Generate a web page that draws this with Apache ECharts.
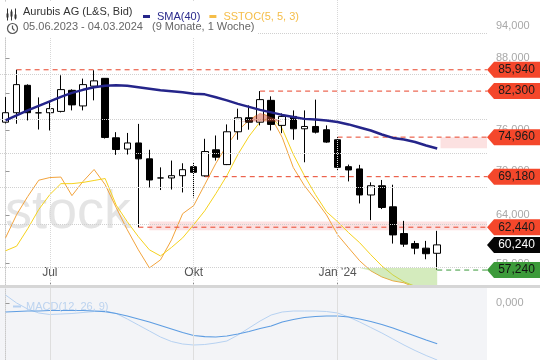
<!DOCTYPE html>
<html><head><meta charset="utf-8">
<script src="https://cdn.jsdelivr.net/npm/echarts@6/dist/echarts.min.js"></script>
<style>html,body{margin:0;padding:0;background:#fff}#c{width:540px;height:360px}</style>
</head><body><div id="c"></div>
<script>
// ---- data (weekly, Aurubis AG, L&S Bid) ----
const weeks = ['05.06.2023','12.06.2023','19.06.2023','26.06.2023','03.07.2023','10.07.2023','17.07.2023','24.07.2023','31.07.2023','07.08.2023',
  '14.08.2023','21.08.2023','28.08.2023','04.09.2023','11.09.2023','18.09.2023','25.09.2023','02.10.2023','09.10.2023','16.10.2023',
  '23.10.2023','30.10.2023','06.11.2023','13.11.2023','20.11.2023','27.11.2023','04.12.2023','11.12.2023','18.12.2023','25.12.2023',
  '01.01.2024','08.01.2024','15.01.2024','22.01.2024','29.01.2024','05.02.2024','12.02.2024','19.02.2024','26.02.2024','04.03.2024'];
const open  = [77.27,78.77,83.27,78.75,78.77,78.98,82.43,79.86,83.13,84.46, 74.86,73.17,74.08,71.73,69.00,69.00,69.32,70.60,69.30,73.06,
               70.90,75.78,77.97,77.27,80.77,76.77,78.18,76.24,76.60,76.09, 74.56,70.60,70.28,66.66,67.92,65.08,61.64,60.40,59.84,59.22];
const close = [78.77,83.39,78.77,78.75,79.42,82.55,80.03,83.39,84.03,74.91, 73.10,74.08,71.73,68.72,69.00,69.32,70.17,69.79,72.80,71.97,
               75.78,77.97,77.27,80.89,76.92,78.18,76.24,76.60,75.72,74.21, 70.50,70.13,66.66,67.92,64.99,61.47,60.33,59.84,59.17,60.24];
const low   = [77.07,77.02,77.54,76.13,75.98,78.82,79.14,79.14,80.77,74.75, 72.31,72.36,62.44,67.69,67.33,67.40,67.00,66.33,69.18,71.48,
               70.83,74.56,76.10,76.77,75.98,75.57,74.56,71.23,75.52,74.10, 70.07,68.52,65.52,63.34,64.78,60.40,60.00,59.10,58.51,57.24];
const high  = [81.31,85.94,83.44,81.26,80.69,84.98,82.60,84.41,85.85,84.51, 75.72,75.60,77.00,73.06,70.50,71.48,71.09,71.23,74.71,75.21,
               76.92,79.42,79.95,82.30,81.43,78.66,79.14,79.14,80.89,76.77, 74.96,70.90,70.86,68.39,68.72,68.06,63.25,60.73,60.73,61.98];
const sma40 = [77.54,78.33,79.14,79.87,80.60,81.35,82.01,82.51,82.93,83.18, 83.27,83.18,82.93,82.68,82.43,82.26,82.09,81.84,81.76,81.27,
               80.77,80.20,79.71,79.22,78.82,78.42,78.10,77.79,77.70,77.54, 77.31,76.92,76.45,75.98,75.37,74.84,74.60,74.23,73.70,73.26];
const stochK = [32.3,41.8,49.2,55.9,57.0,57.2,49.6,55.4,60.3,54.1, 44.7,35.6,27.4,20.0,23.3,31.5,42.2,45.5,54.1,62.8,
                70.2,76.3,80.4,83.5,81.7,73.4,61.1,53.7,47.9,41.7, 33.6,28.2,22.9,18.8,16.3,14.7,13.9,12.0,11.0,8.0];
const stochD = [27.0,28.9,36.0,43.9,50.0,54.5,54.5,55.0,55.8,56.6, 45.7,38.9,32.8,27.4,24.9,28.4,32.3,37.7,43.4,50.4,
                57.8,66.5,73.9,79.8,81.7,77.0,66.5,57.8,50.0,43.0, 38.9,34.4,30.3,25.4,20.8,17.1,14.3,12.5,11.0,9.0];
const macd   = [0.80,0.00,-0.60,-1.00,-1.15,-1.10,-1.05,-0.95,-0.85,-0.80, -1.05,-1.60,-2.20,-2.80,-3.40,-3.85,-4.10,-4.20,-4.15,-4.00,
                -3.80,-3.20,-2.50,-1.80,-1.20,-0.90,-0.80,-0.80,-0.80,-0.85, -1.00,-1.40,-1.90,-2.45,-3.00,-3.60,-4.20,-4.75,-5.25,-5.70];
const macdSignal = [-0.90,-0.85,-0.80,-0.80,-0.75,-0.75,-0.75,-0.75,-0.80,-0.87, -1.05,-1.30,-1.60,-1.90,-2.25,-2.60,-2.95,-3.25,-3.36,-3.40,
                -3.30,-3.10,-2.85,-2.55,-2.30,-1.90,-1.65,-1.45,-1.35,-1.30, -1.30,-1.40,-1.60,-1.85,-2.15,-2.50,-2.90,-3.30,-3.70,-4.08];
const priceTicks = [58, 64, 70, 76, 82, 88, 94, 100];
const xTickWeeks = ['03.07.2023','02.10.2023','01.01.2024'];
const xTickLabels = ['Jul','Okt',"Jan '24"];
const resistLevels = [85.94, 82.30, 74.96, 69.18, 62.44];
const resistFrom   = ['12.06.2023','13.11.2023','01.01.2024','09.10.2023','28.08.2023'];
const supportLevel = 57.24, supportFrom = '04.03.2024';
const lastPrice = 60.24;
const zoneTop    = [63.16, 74.96];
const zoneBottom = [62.07, 73.30];
const zoneFrom   = ['04.09.2023', '04.03.2024'];
const stochOverbought = 80, stochOversold = 20;
const hGridStoch = [116.2, 99.3, 80.8, 66.9, 52.9, 37.7, 20.4];

// ---- helpers ----
const fmt = v => Number(v).toFixed(3).replace('.', ',');
const idx = w => weeks.indexOf(w);
const X_MAX = weeks.length + 3.5; // 4 empty weeks on the right
const tickIdx = xTickWeeks.map(idx);
const pts = arr => arr.map((v, i) => [i, v]);
const candles = weeks.map((w, i) => [i, open[i], close[i], low[i], high[i]]);
const upFillLine = stochK.map(v => Math.max(v, stochOverbought));
const lowFillLine = stochK.map(v => Math.min(v, stochOversold));
const FONT = 'Liberation Sans, Arial, sans-serif';
const tagPath = 'path://M0,8L7,0L53,0L53,16L7,16Z';

const chart = echarts.init(document.getElementById('c'), null, {renderer: 'canvas'});
const tags = resistLevels.map(v => ({v, bg: '#f4472b', fg: '#1a1a1a'}))
  .concat([{v: lastPrice, bg: '#050505', fg: '#ffffff'}, {v: supportLevel, bg: '#3c9a3a', fg: '#111'}]);

const levelSeries = resistLevels.map((v, k) => ({v, from: idx(resistFrom[k]), color: '#e8432a'}))
  .concat([{v: supportLevel, from: idx(supportFrom), color: '#3a9a3a'}])
  .map(l => ({type: 'line', xAxisIndex: 0, yAxisIndex: 0, z: 3, symbol: 'none', silent: true,
    data: [[l.from, l.v], [X_MAX, l.v]], lineStyle: {color: l.color, type: [5, 4], width: 1}}));

const option = {
  animation: false,
  backgroundColor: '#ffffff',
  textStyle: {fontFamily: FONT},
  grid: [
    {left: 0, top: 0, width: 487, height: 285},
    {left: 0, top: 288, width: 487, height: 72, show: true, backgroundColor: '#f3f4f7', borderWidth: 0}
  ],
  legend: [
    {left: 138, top: 6, z: 30, icon: 'rect', itemWidth: 7, itemHeight: 3, itemGap: 9, selectedMode: false,
     textStyle: {fontSize: 11, fontFamily: FONT, padding: [0, 0, 0, 2]},
     data: [{name: 'SMA(40)', textStyle: {color: '#2a2a8c'}},
            {name: 'SSTOC(5, 5, 3)', textStyle: {color: '#f5bd48'}, itemStyle: {color: '#f5bd48'}}]},
    {left: 8, top: 296, z: 30, icon: 'rect', itemWidth: 8, itemHeight: 2, itemGap: 5, selectedMode: false,
     textStyle: {fontSize: 11, fontFamily: FONT, color: '#bcd3ef'},
     data: [{name: 'MACD(12, 26, 9)'}]}
  ],
  xAxis: [
    {type: 'value', gridIndex: 0, min: -0.5, max: X_MAX,
     axisLine: {show: false}, splitLine: {show: false},
     axisTick: {show: true, inside: true, length: 3, customValues: tickIdx, lineStyle: {color: '#888'}},
     axisLabel: {inside: true, customValues: tickIdx, margin: 6, color: '#555', fontSize: 12,
                 formatter: v => xTickLabels[tickIdx.indexOf(Math.round(v))] || ''}},
    {type: 'value', gridIndex: 1, min: -0.5, max: X_MAX, show: false}
  ],
  yAxis: [
    {type: 'log', gridIndex: 0, position: 'right', min: 55.53, max: 99.01,
     axisLine: {show: true, lineStyle: {color: '#c8c8c8', type: 'dotted'}},
     axisTick: {show: true, customValues: priceTicks, length: 4, lineStyle: {color: '#999'}},
     axisLabel: {customValues: priceTicks, formatter: fmt, color: '#a8a8a8', fontSize: 11, margin: 9},
     splitLine: {show: false}},
    {type: 'value', gridIndex: 0, min: 13, max: 129.7, show: false},
    {type: 'value', gridIndex: 1, position: 'right', min: -5.7, max: 1.5,
     axisLine: {show: true, lineStyle: {color: '#c8c8c8', type: 'dotted'}},
     axisTick: {show: true, customValues: [0], length: 4, lineStyle: {color: '#999'}},
     axisLabel: {customValues: [0], formatter: fmt, color: '#a8a8a8', fontSize: 11, margin: 9},
     splitLine: {show: false}}
  ],
  graphic: [
    {type: 'text', left: 5, top: 186, z: 0, silent: true,
     style: {text: 'stock', font: '54px Liberation Sans, Arial', fill: '#e4e4e4'}},
    {type: 'rect', shape: {x: 0, y: 2, width: 257, height: 35}, style: {fill: '#fff'}, z: 20, silent: true},
    {type: 'text', left: 23, top: 6, z: 30, style: {text: 'Aurubis AG (L&S, Bid)', font: '11px Liberation Sans, Arial', fill: '#333'}},
    {type: 'text', left: 23, top: 21, z: 30, style: {text: '05.06.2023 - 04.03.2024', font: '11px Liberation Sans, Arial', fill: '#666'}},
    {type: 'text', left: 152, top: 21, z: 30, style: {text: '(9 Monate, 1 Woche)', font: '11px Liberation Sans, Arial', fill: '#666'}},
    {type: 'group', left: 5, top: 6, z: 30, children: [
      {type: 'line', z: 30, shape: {x1: 1, y1: 0, x2: 1, y2: 12}, style: {stroke: '#333', lineWidth: 1}},
      {type: 'rect', z: 30, shape: {x: 0, y: 5, width: 2, height: 4}, style: {fill: '#333'}},
      {type: 'line', z: 30, shape: {x1: 5, y1: 1, x2: 5, y2: 12}, style: {stroke: '#333', lineWidth: 1}},
      {type: 'rect', z: 30, shape: {x: 4, y: 3, width: 2, height: 5}, style: {fill: '#333'}},
      {type: 'line', z: 30, shape: {x1: 9, y1: 0, x2: 9, y2: 11}, style: {stroke: '#333', lineWidth: 1}},
      {type: 'rect', z: 30, shape: {x: 8, y: 6, width: 2, height: 4}, style: {fill: '#333'}}
    ]},
    {type: 'group', left: 5, top: 21, z: 30, children: [
      {type: 'circle', z: 30, shape: {cx: 6, cy: 6, r: 5}, style: {stroke: '#555', fill: 'none', lineWidth: 1.2}},
      {type: 'polyline', z: 30, shape: {points: [[6, 3], [6, 6], [8, 8]]}, style: {stroke: '#555', fill: 'none', lineWidth: 1.2}}
    ]},
    {type: 'rect', shape: {x: 0, y: 285, width: 540, height: 3}, style: {fill: '#d6d6d6'}, z: 10, silent: true}
  ],
  series: [
    {type: 'candlestick', name: 'Aurubis', xAxisIndex: 0, yAxisIndex: 0, z: 4,
     data: candles, encode: {x: 0, y: [1, 2, 3, 4]}, barWidth: 7,
     itemStyle: {color: '#ffffff', color0: '#000000', borderColor: '#000000', borderColor0: '#000000', borderWidth: 1},
     markArea: {silent: true, itemStyle: {color: 'rgba(246,170,170,0.35)'},
       data: zoneTop.map((t, k) => [{coord: [idx(zoneFrom[k]) + (k === 1 ? 0.3 : 0), t]}, {coord: [X_MAX, zoneBottom[k]]}])},
     markPoint: {silent: true, symbol: tagPath, symbolSize: [53, 16], symbolOffset: [26.5, 0],
       label: {show: true, position: 'inside', offset: [3, 0], fontSize: 12, fontFamily: FONT},
       data: tags.map(t => ({coord: [X_MAX, t.v], value: t.v, itemStyle: {color: t.bg},
         label: {color: t.fg, formatter: p => fmt(p.value)}}))}
    },
    {type: 'line', name: 'SMA(40)', xAxisIndex: 0, yAxisIndex: 0, z: 5, data: pts(sma40), symbol: 'none',
     lineStyle: {color: '#25258a', width: 2.5}, itemStyle: {color: '#25258a'},
     markLine: {silent: true, symbol: 'none', label: {show: false},
       lineStyle: {color: '#d8d8d8', type: 'dotted', width: 1},
       data: tickIdx.map(i => ({xAxis: i}))}},
    {type: 'line', name: 'SSTOC(5, 5, 3)', xAxisIndex: 0, yAxisIndex: 1, z: 3, data: pts(stochK), symbol: 'none',
     lineStyle: {color: '#f2a33c', width: 1}, itemStyle: {color: '#f2a33c'}},
    {type: 'line', name: 'SSTOC %D', xAxisIndex: 0, yAxisIndex: 1, z: 3, data: pts(stochD), symbol: 'none',
     lineStyle: {color: '#f5d21e', width: 1}, itemStyle: {color: '#f5d21e'},
     markLine: {silent: true, symbol: 'none', label: {show: false},
       lineStyle: {color: '#d0d0d0', type: 'dotted', width: 1},
       data: hGridStoch.map(v => ({yAxis: v}))}},
    {type: 'line', xAxisIndex: 0, yAxisIndex: 1, data: pts(upFillLine), symbol: 'none', lineStyle: {width: 0}, z: 6, silent: true,
     areaStyle: {color: 'rgba(205,80,55,0.7)', origin: stochOverbought}},
    {type: 'line', xAxisIndex: 0, yAxisIndex: 1, data: pts(lowFillLine), symbol: 'none', lineStyle: {width: 0}, z: 6, silent: true,
     areaStyle: {color: 'rgba(160,210,110,0.65)', origin: stochOversold}},
    {type: 'line', name: 'MACD(12, 26, 9)', xAxisIndex: 1, yAxisIndex: 2, data: pts(macd), symbol: 'none',
     lineStyle: {color: '#b6d1f1', width: 1}, itemStyle: {color: '#b6d1f1'},
     markLine: {silent: true, symbol: 'none', label: {show: false},
       lineStyle: {color: '#dedede', type: 'solid', width: 1},
       data: tickIdx.map(i => ({xAxis: i}))}},
    {type: 'line', name: 'Signal', xAxisIndex: 1, yAxisIndex: 2, data: pts(macdSignal), symbol: 'none',
     lineStyle: {color: '#5e9de2', width: 1.2}, itemStyle: {color: '#5e9de2'}}
  ].concat(levelSeries)
};
chart.setOption(option);
</script>
</body></html>
